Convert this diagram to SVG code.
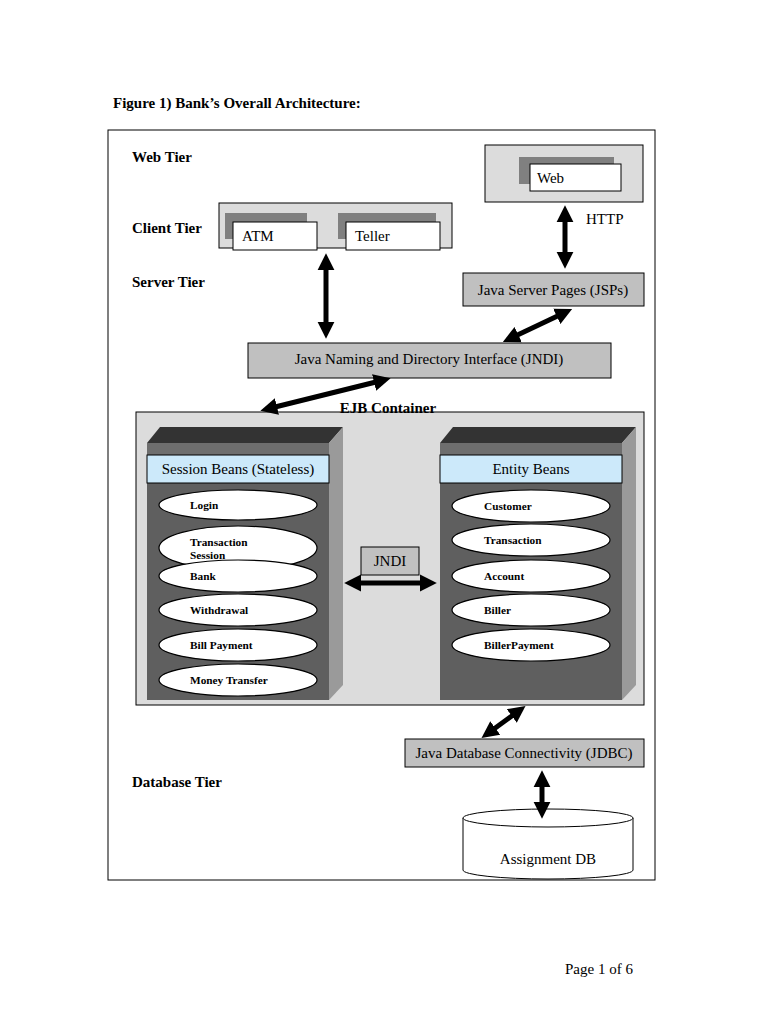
<svg xmlns="http://www.w3.org/2000/svg" width="768" height="1024" viewBox="0 0 768 1024">
<style>
text{font-family:"Liberation Serif","Times New Roman",serif;fill:#000}
.t{font-size:15px;font-weight:bold}
.b{font-size:15px}
.e{font-size:11.3px;font-weight:bold}
.grey{fill:#c0c0c0;stroke:#000;stroke-width:1}
.light{fill:#dcdcdc;stroke:#000;stroke-width:1}
.shadow{fill:#808080}
.white{fill:#fff;stroke:#000;stroke-width:1}
.hdr{fill:#cce9fa;stroke:#000;stroke-width:1}
.ell{fill:#fff;stroke:#000;stroke-width:1.2}
.conn{stroke:#000;stroke-width:5;fill:none;marker-start:url(#ah);marker-end:url(#ah)}
</style>
<defs>
<marker id="ah" viewBox="0 0 10 10" refX="6" refY="5" markerWidth="17" markerHeight="19" markerUnits="userSpaceOnUse" orient="auto-start-reverse">
<path d="M0,0 L10,5 L0,10 z" fill="#000"/>
</marker>
</defs>
<rect width="768" height="1024" fill="#fff"/>
<text x="113" y="108" class="t">Figure 1) Bank’s Overall Architecture:</text>
<rect x="108" y="130" width="547" height="750" fill="#fff" stroke="#000" stroke-width="1"/>
<text x="132" y="162" class="t">Web Tier</text>
<text x="132" y="233" class="t">Client Tier</text>
<text x="132" y="287" class="t">Server Tier</text>
<text x="132" y="787" class="t">Database Tier</text>

<g id="web">
<rect x="485" y="145" width="158" height="57" class="light"/>
<rect x="519" y="157" width="95" height="27" class="shadow"/>
<rect x="530" y="164" width="91" height="27" class="white"/>
<text x="537" y="183" class="b">Web</text>
</g>
<g id="client">
<rect x="219" y="203" width="233" height="45" class="light"/>
<rect x="225" y="213" width="82" height="26" class="shadow"/>
<rect x="233" y="222" width="84" height="28" class="white"/>
<text x="242" y="241" class="b">ATM</text>
<rect x="338" y="213" width="98" height="26" class="shadow"/>
<rect x="346" y="222" width="94" height="28" class="white"/>
<text x="355" y="241" class="b">Teller</text>
</g>
<text x="586" y="224" class="b">HTTP</text>
<g id="jsp">
<rect x="463" y="273" width="181" height="33" class="grey"/>
<text x="553" y="295" class="b" text-anchor="middle">Java Server Pages (JSPs)</text>
</g>
<g id="jndi">
<rect x="248" y="343" width="363" height="35" class="grey"/>
<text x="429" y="364" class="b" text-anchor="middle">Java Naming and Directory Interface (JNDI)</text>
</g>

<g id="ejb">
<rect x="136" y="412" width="508" height="293" class="light"/>
<text x="388" y="413" class="t" text-anchor="middle">EJB Container</text>
</g>

<g id="session">
<polygon points="147,443 160,427 343,427 329,443" fill="#333"/>
<polygon points="329,443 343,427 343,685 329,700" fill="#9a9a9a"/>
<rect x="147" y="443" width="182" height="257" fill="#5f5f5f"/>
<rect x="147" y="443" width="182" height="12" fill="#6e6e6e"/>
<rect x="147" y="455" width="182" height="28" class="hdr"/>
<text x="238" y="474" class="b" text-anchor="middle">Session Beans (Stateless)</text>
<ellipse cx="238" cy="505" rx="79" ry="15" class="ell"/>
<text x="190" y="509" class="e">Login</text>
<ellipse cx="238" cy="548" rx="79" ry="22" class="ell"/>
<text x="190" y="546" class="e">Transaction</text>
<text x="190" y="559" class="e">Session</text>
<ellipse cx="238" cy="576" rx="79" ry="16" class="ell"/>
<text x="190" y="580" class="e">Bank</text>
<ellipse cx="238" cy="610" rx="79" ry="16" class="ell"/>
<text x="190" y="614" class="e">Withdrawal</text>
<ellipse cx="238" cy="645" rx="79" ry="16" class="ell"/>
<text x="190" y="649" class="e">Bill Payment</text>
<ellipse cx="238" cy="680" rx="79" ry="16" class="ell"/>
<text x="190" y="684" class="e">Money Transfer</text>
</g>

<g id="entity">
<polygon points="440,443 453,427 636,427 622,443" fill="#333"/>
<polygon points="622,443 636,427 636,685 622,700" fill="#9a9a9a"/>
<rect x="440" y="443" width="182" height="257" fill="#5f5f5f"/>
<rect x="440" y="443" width="182" height="12" fill="#6e6e6e"/>
<rect x="440" y="455" width="182" height="28" class="hdr"/>
<text x="531" y="474" class="b" text-anchor="middle">Entity Beans</text>
<ellipse cx="531" cy="506" rx="79" ry="16" class="ell"/>
<text x="484" y="510" class="e">Customer</text>
<ellipse cx="531" cy="540" rx="79" ry="16" class="ell"/>
<text x="484" y="544" class="e">Transaction</text>
<ellipse cx="531" cy="576" rx="79" ry="16" class="ell"/>
<text x="484" y="580" class="e">Account</text>
<ellipse cx="531" cy="610" rx="79" ry="16" class="ell"/>
<text x="484" y="614" class="e">Biller</text>
<ellipse cx="531" cy="645" rx="79" ry="16" class="ell"/>
<text x="484" y="649" class="e">BillerPayment</text>
</g>

<g id="jndi-small">
<rect x="361" y="547" width="58" height="28" class="grey"/>
<text x="390" y="566" class="b" text-anchor="middle">JNDI</text>
</g>

<g id="jdbc">
<rect x="405" y="739" width="239" height="28" class="grey"/>
<text x="524" y="758" class="b" text-anchor="middle">Java Database Connectivity (JDBC)</text>
</g>

<g id="db">
<path d="M463,818 L463,870 A85,9 0 0 0 633,870 L633,818" fill="#fff" stroke="#000"/>
<ellipse cx="548" cy="818" rx="85" ry="9" fill="#fff" stroke="#000"/>
<text x="548" y="864" class="b" text-anchor="middle">Assignment DB</text>
</g>

<g id="connectors">
<line x1="565" y1="212" x2="565" y2="262" class="conn"/>
<line x1="326" y1="260" x2="326" y2="332" class="conn"/>
<line x1="566" y1="312" x2="509" y2="339" class="conn"/>
<line x1="384" y1="380" x2="267" y2="409" class="conn"/>
<line x1="351" y1="583" x2="430" y2="583" class="conn"/>
<line x1="520" y1="710" x2="487" y2="734" class="conn"/>
<line x1="542" y1="777" x2="542" y2="812" class="conn"/>
</g>

<text x="565" y="974" class="b">Page 1 of 6</text>
</svg>
